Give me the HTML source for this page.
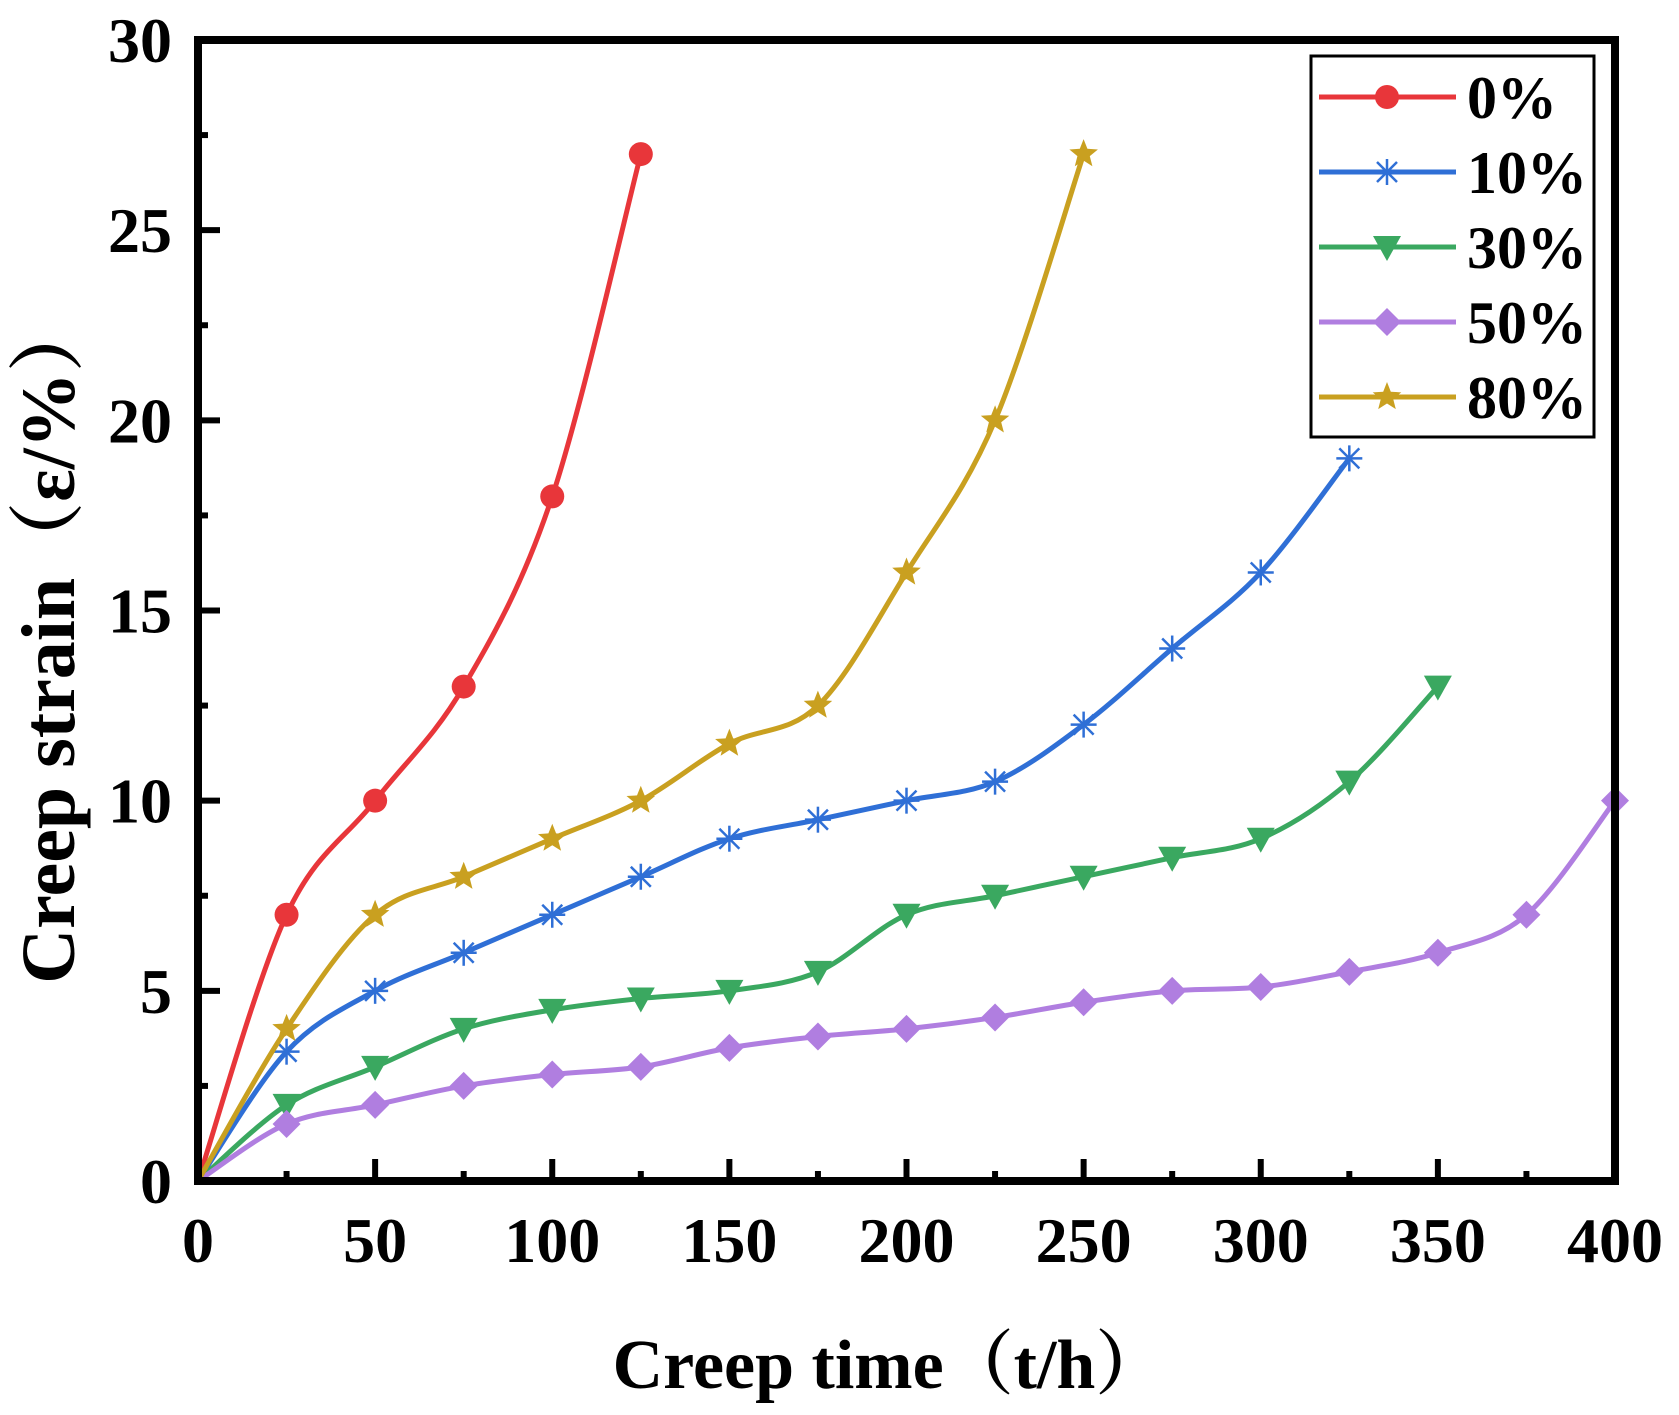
<!DOCTYPE html>
<html><head><meta charset="utf-8"><style>
body{margin:0;background:#fff}
svg{display:block}
text{font-family:"Liberation Serif","Noto Serif CJK SC",serif;font-weight:bold;fill:#000}
</style></head><body>
<svg id="s" width="1679" height="1415" xmlns="http://www.w3.org/2000/svg"></svg>
<script>
const s=document.getElementById('s');
const X0=198,X1=1615,Y0=1181,Y1=40;
const fx=v=>X0+(X1-X0)*v/400, fy=v=>Y0-(Y0-Y1)*v/30;
let h='';
const S=[
['#e8363a','c',[[0,0],[25,7],[50,10],[75,13],[100,18],[125,27]]],
['#2f6fd6','x',[[0,0],[25,3.4],[50,5],[75,6],[100,7],[125,8],[150,9],[175,9.5],[200,10],[225,10.5],[250,12],[275,14],[300,16],[325,19]]],
['#3aa860','t',[[0,0],[25,2],[50,3],[75,4],[100,4.5],[125,4.8],[150,5],[175,5.5],[200,7],[225,7.5],[250,8],[275,8.5],[300,9],[325,10.5],[350,13]]],
['#b07ee0','d',[[0,0],[25,1.5],[50,2],[75,2.5],[100,2.8],[125,3],[150,3.5],[175,3.8],[200,4],[225,4.3],[250,4.7],[275,5],[300,5.1],[325,5.5],[350,6],[375,7],[400,10]]],
['#c9a020','s',[[0,0],[25,4],[50,7],[75,8],[100,9],[125,10],[150,11.5],[175,12.5],[200,16],[225,20],[250,27]]]
];
function mk(t,x,y,c){
 if(t=='c')return `<circle cx="${x}" cy="${y}" r="12" fill="${c}"/>`;
 if(t=='x'){let r=13;return `<g stroke="${c}" stroke-width="2.5"><line x1="${x-r}" y1="${y}" x2="${x+r}" y2="${y}"/><line x1="${x}" y1="${y-r}" x2="${x}" y2="${y+r}"/><line x1="${x-10}" y1="${y-10}" x2="${x+10}" y2="${y+10}"/><line x1="${x-10}" y1="${y+10}" x2="${x+10}" y2="${y-10}"/></g>`;}
 if(t=='t')return `<polygon points="${x-14},${y-11} ${x+14},${y-11} ${x},${y+14}" fill="${c}"/>`;
 if(t=='d')return `<polygon points="${x},${y-14} ${x+14},${y} ${x},${y+14} ${x-14},${y}" fill="${c}"/>`;
 let p=[];for(let i=0;i<10;i++){let r=i%2?6.5:15,a=-Math.PI/2+i*Math.PI/5;p.push((x+r*Math.cos(a)).toFixed(1)+','+(y+r*Math.sin(a)).toFixed(1));}
 return `<polygon points="${p.join(' ')}" fill="${c}"/>`;
}
for(const [c,t,d] of S){
 const P=d.map(p=>[fx(p[0]),fy(p[1])]);
 let path='M'+P[0];
 for(let i=0;i<P.length-1;i++){
  const p0=P[Math.max(0,i-1)],p1=P[i],p2=P[i+1],p3=P[Math.min(P.length-1,i+2)];
  const c1=[p1[0]+(p2[0]-p0[0])/6,p1[1]+(p2[1]-p0[1])/6],c2=[p2[0]-(p3[0]-p1[0])/6,p2[1]-(p3[1]-p1[1])/6];
  path+=` C${c1} ${c2} ${p2}`;
 }
 h+=`<path d="${path}" fill="none" stroke="${c}" stroke-width="5"/>`;
 P.slice(1).forEach(p=>h+=mk(t,p[0],p[1],c));
}
h+=`<rect x="${X0}" y="${Y1}" width="${X1-X0}" height="${Y0-Y1}" fill="none" stroke="#000" stroke-width="8"/>`;
for(let v=0;v<=400;v+=25){const x=fx(v),L=v%50?10:22;h+=`<line x1="${x}" y1="${Y0}" x2="${x}" y2="${Y0-L}" stroke="#000" stroke-width="6"/>`;
 if(v%50==0)h+=`<text x="${x}" y="1262" font-size="64" text-anchor="middle">${v}</text>`;}
for(let v=0;v<=30;v+=2.5){const y=fy(v),L=v%5?10:22;h+=`<line x1="${X0}" y1="${y}" x2="${X0+L}" y2="${y}" stroke="#000" stroke-width="6"/>`;
 if(v%5==0)h+=`<text x="172" y="${y+22}" font-size="64" text-anchor="end">${v}</text>`;}
h+=`<text x="889" y="1388" font-size="70" text-anchor="middle">Creep time（t/h）</text>`;
h+=`<text transform="translate(74,640) rotate(-90)" font-size="76" text-anchor="middle">Creep strain（ε/%）</text>`;
h+=`<rect x="1311" y="56" width="283" height="381" fill="#fff" stroke="#000" stroke-width="3"/>`;
const lab=['0%','10%','30%','50%','80%'];
S.forEach(([c,t],i)=>{const y=97+75*i;h+=`<line x1="1319" y1="${y}" x2="1456" y2="${y}" stroke="${c}" stroke-width="5"/>`+mk(t,1387,y,c)+`<text x="1467" y="${y+21}" font-size="60">${lab[i]}</text>`;});
s.innerHTML=h;
</script>
</body></html>
